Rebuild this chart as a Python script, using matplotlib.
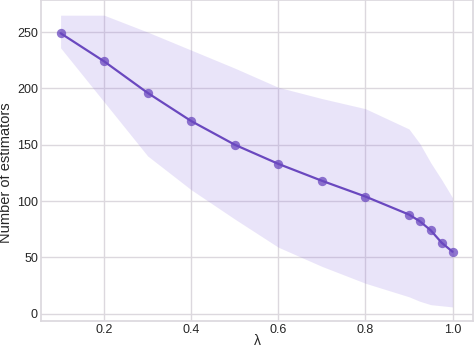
#!/usr/bin/env python3

import matplotlib
matplotlib.use("Agg")
import matplotlib.pyplot as plt
import seaborn as sns

sns.set_theme(style="whitegrid")
plt.rcParams['font.family'] = ['Liberation Sans', 'DejaVu Sans']

lambdas = [0.1, 0.2, 0.3, 0.4, 0.5, 0.6, 0.7, 0.8, 0.9, 0.925, 0.95, 0.975, 1.0]
mean_estimators = [249, 224, 196, 171, 150, 133, 118, 104, 88, 82, 74, 63, 55]
upper_estimators = [265, 265, 250, 234, 218, 201, 191, 182, 164, 151, 134, 119, 103]
lower_estimators = [236, 188, 140, 110, 84, 59, 42, 27, 15, 11, 8, 7, 6]

LINE_COLOR = '#6a48bf'
FILL_COLOR = '#8a6ce0'

fig = plt.figure(figsize=(4.74, 3.51), dpi=100)
ax = fig.add_axes([41 / 474, 30 / 351, 432 / 474, 321 / 351])

ax.fill_between(lambdas, lower_estimators, upper_estimators,
                color=FILL_COLOR, alpha=0.18, linewidth=0)
ax.plot(lambdas, mean_estimators, color=LINE_COLOR, linewidth=1.6)
ax.scatter(lambdas, mean_estimators, color=LINE_COLOR, s=45, alpha=0.75,
           linewidths=0, zorder=3)

ax.set_xticks([0.2, 0.4, 0.6, 0.8, 1.0])
ax.set_yticks([0, 50, 100, 150, 200, 250])
ax.set_xlim(0.055, 1.047)
ax.set_ylim(-6.5, 278.5)
# hidden ticks still take room in whitegrid, so zero their length
ax.tick_params(axis='x', labelsize=9, length=0, pad=2.5)
ax.tick_params(axis='y', labelsize=9, length=0, pad=2.2)
ax.grid(color='#dcd8de', linewidth=1.0)
for side in ax.spines.values():
    side.set_color('#dcd8de')

ax.set_xlabel('λ', fontsize=10)
ax.set_ylabel('Number of estimators', fontsize=10.5)
ax.yaxis.set_label_coords(-0.065, 0.463)
ax.xaxis.set_label_coords(0.5, -0.04)

fig.savefig('out.png', dpi=100)
